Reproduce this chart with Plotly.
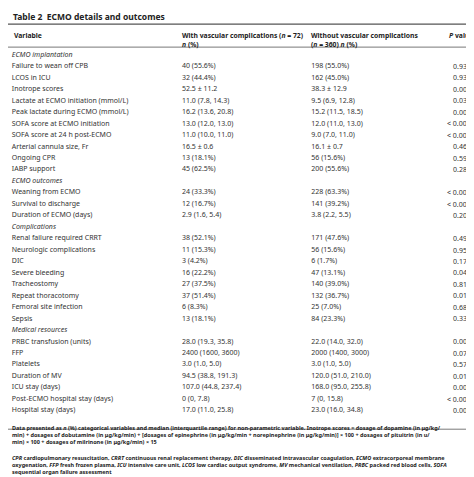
import plotly.graph_objects as go

# 表格数据
variables = ["<i>ECMO implantation</i>", "Failure to wean off CPB", "LCOS in ICU", "Inotrope scores",
             "Lactate at ECMO initiation (mmol/L)", "Peak lactate during ECMO (mmol/L)",
             "SOFA score at ECMO initiation", "SOFA score at 24 h post-ECMO", "Arterial cannula size, Fr",
             "Ongoing CPR", "IABP support",
             "<i>ECMO outcomes</i>", "Weaning from ECMO", "Survival to discharge", "Duration of ECMO (days)",
             "<i>Complications</i>", "Renal failure required CRRT", "Neurologic complications", "DIC",
             "Severe bleeding", "Tracheostomy", "Repeat thoracotomy", "Femoral site infection", "Sepsis",
             "<i>Medical resources</i>", "PRBC transfusion (units)", "FFP", "Platelets", "Duration of MV",
             "ICU stay (days)", "Post-ECMO hospital stay (days)", "Hospital stay (days)"]
with_vc = ["", "40 (55.6%)", "32 (44.4%)", "52.5 ± 11.2", "11.0 (7.8, 14.3)", "16.2 (13.6, 20.8)",
           "13.0 (12.0, 13.0)", "11.0 (10.0, 11.0)", "16.5 ± 0.6", "13 (18.1%)", "45 (62.5%)",
           "", "24 (33.3%)", "12 (16.7%)", "2.9 (1.6, 5.4)",
           "", "38 (52.1%)", "11 (15.3%)", "3 (4.2%)", "16 (22.2%)", "27 (37.5%)", "37 (51.4%)",
           "6 (8.3%)", "13 (18.1%)",
           "", "28.0 (19.3, 35.8)", "2400 (1600, 3600)", "3.0 (1.0, 5.0)", "94.5 (38.8, 191.3)",
           "107.0 (44.8, 237.4)", "0 (0, 7.8)", "17.0 (11.0, 25.8)"]
without_vc = ["", "198 (55.0%)", "162 (45.0%)", "38.3 ± 12.9", "9.5 (6.9, 12.8)", "15.2 (11.5, 18.5)",
              "12.0 (11.0, 13.0)", "9.0 (7.0, 11.0)", "16.1 ± 0.7", "56 (15.6%)", "200 (55.6%)",
              "", "228 (63.3%)", "141 (39.2%)", "3.8 (2.2, 5.5)",
              "", "171 (47.6%)", "56 (15.6%)", "6 (1.7%)", "47 (13.1%)", "140 (39.0%)", "132 (36.7%)",
              "25 (7.0%)", "84 (23.3%)",
              "", "22.0 (14.0, 32.0)", "2000 (1400, 3000)", "3.0 (1.0, 5.0)", "120.0 (51.0, 210.0)",
              "168.0 (95.0, 255.8)", "7 (0, 15.8)", "23.0 (16.0, 34.8)"]
p_values = ["", "0.932", "0.932", "0.008", "0.035", "0.004", "< 0.001", "< 0.001", "0.467", "0.597", "0.280",
            "", "< 0.001", "< 0.001", "0.204",
            "", "0.490", "0.953", "0.177", "0.044", "0.812", "0.019", "0.681", "0.335",
            "", "0.002", "0.076", "0.578", "0.018", "0.007", "< 0.001", "0.001"]

rows = list(range(len(variables)))
FONT = "Noto Sans"
TXT = "#333333"

fig = go.Figure()
for x, col in [(0.008, variables), (0.367, with_vc), (0.64, without_vc)]:
    fig.add_trace(go.Scatter(x=[x] * len(rows), y=rows, mode="text", text=col, textposition="middle right",
                             textfont=dict(family=FONT, size=7, color=TXT), hoverinfo="skip"))

# P 值右对齐
for r, p in zip(rows, p_values):
    if p:
        fig.add_annotation(x=0.98, y=r, xref="x", yref="y", text=p, showarrow=False, xanchor="right",
                           yanchor="middle", font=dict(family=FONT, size=7, color=TXT))

ann = [
    dict(x=0.006, y=0.997, text="<b>Table 2  ECMO details and outcomes</b>", size=8.5),
    dict(x=0.008, y=0.957, text="<b>Variable</b>", size=6.8),
    dict(x=0.362, y=0.957, text="<b>With vascular complications (<i>n</i> = 72)</b><br><b><i>n</i> (%)</b>", size=6.8),
    dict(x=0.635, y=0.957, text="<b>Without vascular complications</b><br><b>(<i>n</i> = 360) <i>n</i> (%)</b>", size=6.8),
    dict(x=0.985, y=0.957, text="<b><i>P</i> value</b>", size=6.8, anchor="right"),
    dict(x=0.004, y=0.132, size=5.5,
         text="<b>Data presented as <i>n</i> (%) categorical variables and median (interquartile range) for non-parametric variable. Inotrope scores = dosage of dopamine (in μg/kg/</b><br>"
              "<b>min) + dosages of dobutamine (in μg/kg/min) + [dosages of epinephrine (in μg/kg/min + norepinephrine (in μg/kg/min)] × 100 + dosages of pituitrin (in u/</b><br>"
              "<b>min) × 100 + dosages of milrinone (in μg/kg/min) × 15</b>"),
    dict(x=0.004, y=0.070, size=5.5,
         text="<b><i>CPR</i> cardiopulmonary resuscitation, <i>CRRT</i> continuous renal replacement therapy, <i>DIC</i> disseminated intravascular coagulation, <i>ECMO</i> extracorporeal membrane</b><br>"
              "<b>oxygenation, <i>FFP</i> fresh frozen plasma, <i>ICU</i> intensive care unit, <i>LCOS</i> low cardiac output syndrome, <i>MV</i> mechanical ventilation, <i>PRBC</i> packed red blood cells, <i>SOFA</i></b><br>"
              "<b>sequential organ failure assessment</b>"),
]
for a in ann:
    fig.add_annotation(x=a["x"], y=a["y"], xref="paper", yref="paper", text=a["text"], showarrow=False,
                       xanchor=a.get("anchor", "left"), yanchor="top", align="left",
                       font=dict(family=FONT, size=a["size"], color="#222222"))

for yy, w in [(0.966, 1.2), (0.918, 0.8), (0.117, 0.8)]:
    fig.add_shape(type="line", xref="paper", yref="paper", x0=0, x1=1, y0=yy, y1=yy,
                  line=dict(color="#555555", width=w))

fig.update_layout(width=474, height=477, margin=dict(l=0, r=0, t=0, b=0), showlegend=False,
                  plot_bgcolor="white", paper_bgcolor="white",
                  xaxis=dict(range=[0, 1], visible=False, fixedrange=True),
                  yaxis=dict(range=[37.49, -4.10], visible=False, fixedrange=True))

fig.write_html("out.html")
